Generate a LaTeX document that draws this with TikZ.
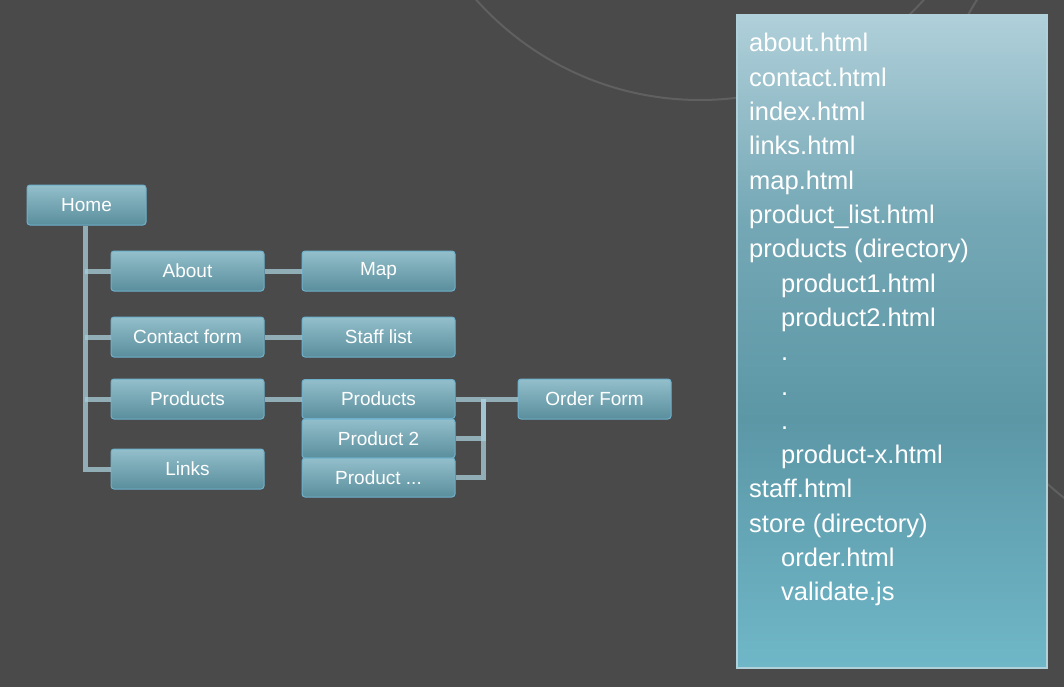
\documentclass[tikz,border=0pt]{standalone}
\usepackage{fontspec}
\setmainfont{Liberation Sans}
\begin{document}
\begin{tikzpicture}[x=1pt,y=-1pt,
  box/.style={draw=cyan!60!white!80!black, line width=1pt, rounded corners=3pt, top color=bcol1, bottom color=bcol2, text=white, font=\fontsize{19}{21}\selectfont, minimum width=153pt, minimum height=40pt, inner sep=0pt},
  conn/.style={draw=linkc, line width=5pt, opacity=0.75},
  ftxt/.style={anchor=base west, text=white, font=\fontsize{25.5}{28}\selectfont, inner sep=0pt}]
\definecolor{bg}{HTML}{4A4A4A}
\definecolor{bcol1}{HTML}{93BFCB}
\definecolor{bcol2}{HTML}{5A8E9C}
\definecolor{linkc}{HTML}{A9CFDB}
\definecolor{pan1}{HTML}{B0D0DA}
\definecolor{pan2}{HTML}{5C97A6}
\definecolor{pan3}{HTML}{6FB7C8}
\useasboundingbox (0,0) rectangle (1064,687);
\fill[bg] (0,0) rectangle (1064,687);
\draw[white!12!bg, line width=2pt] (700,-200) circle (300);
\draw[white!12!bg, line width=2pt] (1300,200) circle (380);
% panel
\shade[top color=pan1, bottom color=pan2, middle color=pan2!70!pan1] (737,15) rectangle (1047,420);
\shade[top color=pan2, bottom color=pan3] (737,420) rectangle (1047,668);
\draw[pan1, line width=2pt] (737,15) rectangle (1047,668);
\foreach \t/\ind [count=\i from 0] in {about.html/0, contact.html/0, index.html/0, links.html/0, map.html/0, product\_list.html/0, products (directory)/0, product1.html/1, product2.html/1, ./1, ./1, ./1, product-x.html/1, staff.html/0, store (directory)/0, order.html/1, validate.js/1}
  \node[ftxt] (f\i) at (749+32*\ind, 52+34.3*\i) {\t};
% boxes
\node[box, minimum width=119pt] (home) at (86.5,205) {Home};
\node[box] (about) at (187.5,271) {About};
\node[box] (map) at (378.5,271) {Map};
\node[box] (contact) at (187.5,337) {Contact form};
\node[box] (staff) at (378.5,337) {Staff list};
\node[box] (prod) at (187.5,399) {Products};
\node[box, minimum height=39pt] (prods) at (378.5,399) {Products};
\node[box, minimum height=39pt] (p2) at (378.5,438.5) {Product 2};
\node[box, minimum height=39pt] (px) at (378.5,477.5) {Product ...};
\node[box] (order) at (594.5,399) {Order Form};
\node[box] (links) at (187.5,469) {Links};
% connectors
\coordinate (t) at (85,469);
\coordinate (j) at (483,399);
\draw[conn] (home.south -| t) -- (t) -- (links.west);
\draw[conn] (about.west -| t) -- (about.west);
\draw[conn] (contact.west -| t) -- (contact.west);
\draw[conn] (prod.west -| t) -- (prod.west);
\draw[conn] (about) -- (map);
\draw[conn] (contact) -- (staff);
\draw[conn] (prod) -- (prods);
\draw[conn] (prods.east) -- (order.west);
\draw[conn] (p2.east) -- (p2.east -| j) -- (j);
\draw[conn] (px.east) -- (px.east -| j) -- (j);
\end{tikzpicture}
\end{document}
